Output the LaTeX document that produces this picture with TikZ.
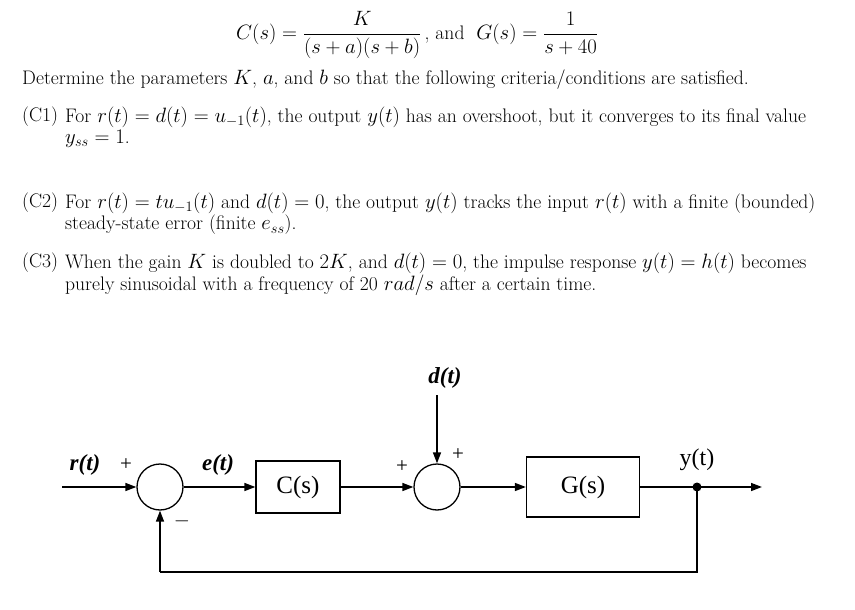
\documentclass[tikz,border=0pt]{standalone}
\usepackage{amsmath}
\usepackage{fontspec}
\newfontfamily\timesf{Liberation Serif}
\usetikzlibrary{arrows.meta}
\begin{document}
\begin{tikzpicture}[x=1pt,y=-1pt,
  txt/.style={anchor=west,inner sep=0pt,font=\fontsize{19.6}{23}\selectfont},
  blk/.style={draw,line width=1.3pt,minimum width=84pt,minimum height=52pt,font=\timesf\fontsize{25}{28}\selectfont},
  sumc/.style={draw,circle,line width=1.3pt,minimum size=46pt,inner sep=0pt},
  sig/.style={font=\timesf\bfseries\itshape\fontsize{23}{26}\selectfont},
  pm/.style={font=\timesf\fontsize{21}{23}\selectfont},
  ln/.style={line width=1.5pt},
  ar/.style={ln,-{Triangle[length=11pt,width=8pt]}}]
\useasboundingbox (0,0) rectangle (855,610);
\node[txt] at (236,35) {$C(s)=\dfrac{K}{(s+a)(s+b)}$\,, and \ $G(s)=\dfrac{1}{s+40}$};
\node[txt] at (22,80) {Determine the parameters $K$, $a$, and $b$ so that the following criteria/conditions are satisfied.};
\node[txt] at (22,117) {(C1)};
\node[txt] at (65,117) {For $r(t)=d(t)=u_{-1}(t)$, the output $y(t)$ has an overshoot, but it converges to its final value};
\node[txt] at (65,139) {$y_{ss}=1$.};
\node[txt] at (22,203) {(C2)};
\node[txt] at (65,203) {For $r(t)=tu_{-1}(t)$ and $d(t)=0$, the output $y(t)$ tracks the input $r(t)$ with a finite (bounded)};
\node[txt] at (65,225) {steady-state error (finite $e_{ss}$).};
\node[txt] at (22,263) {(C3)};
\node[txt] at (65,263) {When the gain $K$ is doubled to $2K$, and $d(t)=0$, the impulse response $y(t)=h(t)$ becomes};
\node[txt] at (65,285) {purely sinusoidal with a frequency of 20 $rad/s$ after a certain time.};
% diagram
\node[sumc] (s1) at (160,487) {};
\node[blk] (C) at (298,487) {C(s)};
\node[sumc] (s2) at (437,487) {};
\node[blk,minimum width=113pt,minimum height=60pt] (G) at (583,487) {G(s)};
\coordinate (rin) at (62,487);
\coordinate (dtop) at (437,395);
\coordinate (yd) at (697,487);
\coordinate (yout) at (762,487);
\coordinate (fb) at (697,572);
\coordinate (fb2) at (160,572);
\draw[ar] (rin) -- (s1.west);
\draw[ar] (s1.east) -- (C.west);
\draw[ar] (C.east) -- (s2.west);
\draw[ar] (dtop) -- (s2.north);
\draw[ar] (s2.east) -- (G.west);
\draw[ar] (G.east) -- (yout);
\fill (yd) circle (4.5pt);
\draw[ln] (yd) -- (fb) -- (fb2);
\draw[ar] (fb2) -- (s1.south);
\node[sig] (rl) at (85,465) {r(t)};
\node[sig] (el) at (218,465) {e(t)};
\node[sig] (dl) at (445,378) {d(t)};
\node[font=\timesf\fontsize{24}{27}\selectfont] (yl) at (697,460) {y(t)};
\node[pm] (p1) at (126,465) {+};
\node[pm] (m1) at (182,521) {$-$};
\node[pm] (p2) at (402,467) {+};
\node[pm] (p3) at (458,455) {+};
\end{tikzpicture}
\end{document}
